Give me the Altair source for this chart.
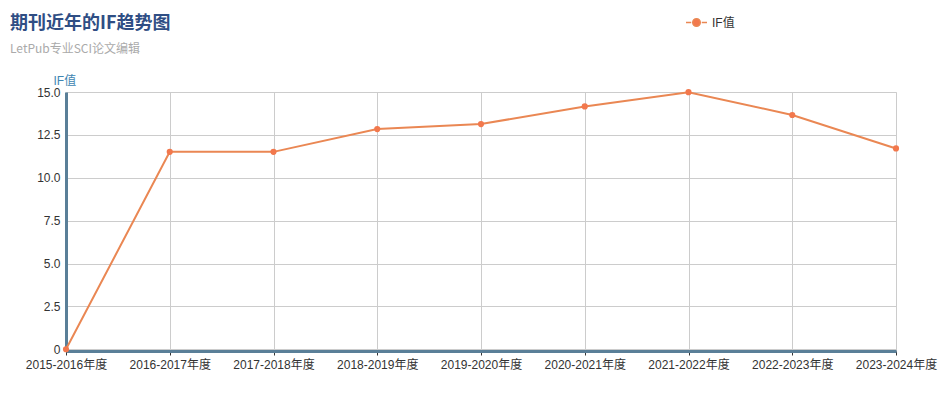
import altair as alt
import pandas as pd

categories = ["2015-2016年度", "2016-2017年度", "2017-2018年度", "2018-2019年度",
              "2019-2020年度", "2020-2021年度", "2021-2022年度", "2022-2023年度",
              "2023-2024年度"]
if_values = [0.0, 11.51, 11.51, 12.84, 13.13, 14.16, 14.99, 13.66, 11.71]
series_name = "IF值"
y_ticks = [0, 2.5, 5, 7.5, 10, 12.5, 15]

df = pd.DataFrame({"year": categories, "IF": if_values, "series": series_name})

FONT = "Liberation Sans, Noto Sans CJK SC"
LINE_COLOR = "#ea8753"
POINT_COLOR = "#f2784d"

x_enc = alt.X(
    "year:N", sort=categories,
    scale=alt.Scale(type="point", padding=0),
    axis=alt.Axis(title=None, labelAngle=0, labelFontSize=12, labelColor="#333333",
                  labelFont=FONT, labelPadding=4, domainColor="#5a7f98", domainWidth=3,
                  tickColor="#333333", tickSize=4, grid=True, gridColor="#cccccc",
                  labelOverlap=False, labelFlush=False),
)
y_enc = alt.Y(
    "IF:Q",
    scale=alt.Scale(domain=[-0.1, 15], nice=False, zero=False),
    axis=alt.Axis(values=y_ticks, title="IF值", titleAngle=0, titleX=-13, titleY=-5,
                  titleAlign="left", titleBaseline="bottom", titleFontWeight="normal",
                  titleFontSize=12, titleColor="#3f86b2", titleFont=FONT,
                  labelExpr="datum.value == 0 ? '0' : format(datum.value, '.1f')",
                  labelFontSize=12, labelColor="#333333", labelFont=FONT, labelPadding=6,
                  ticks=False, domainColor="#5a7f98", domainWidth=3,
                  grid=True, gridColor="#cccccc"),
)

legend_path = ("M-1,0L-0.5,0M0.5,0L1,0"
               "M0.36,0A0.36,0.36,0,1,1,-0.36,0A0.36,0.36,0,1,1,0.36,0Z")

line = alt.Chart(df).mark_line(strokeWidth=2, color=LINE_COLOR).encode(
    x=x_enc, y=y_enc,
    color=alt.Color("series:N", scale=alt.Scale(range=[LINE_COLOR]),
                    legend=alt.Legend(title=None, orient="none", legendX=619, legendY=-81,
                                      symbolType=legend_path, symbolSize=441,
                                      symbolStrokeWidth=1.5, symbolFillColor=POINT_COLOR,
                                      labelFontSize=12, labelColor="#333333", labelFont=FONT,
                                      labelOffset=4)),
)
points = alt.Chart(df).mark_point(filled=True, size=38, color=POINT_COLOR, opacity=1).encode(
    x=x_enc, y=y_enc,
)

chart = alt.layer(line, points).properties(
    width=830, height=259,
    title=alt.TitleParams(
        text="期刊近年的IF趋势图", subtitle="LetPub专业SCI论文编辑",
        anchor="start", frame="group", dx=-56, dy=56, offset=12,
        font="Noto Sans CJK SC", fontSize=18, fontWeight="bold", color="#2f4e84",
        subtitleFont="Noto Sans CJK SC", subtitleFontSize=12, subtitleColor="#aaaaaa",
        subtitlePadding=11,
    ),
    autosize=alt.AutoSizeParams(type="none"),
    padding={"left": 66, "top": 92, "right": 55, "bottom": 47},
).configure_view(stroke=None).configure(background="white")

chart.save("out.html", embed_options={"renderer": "svg", "actions": False})
